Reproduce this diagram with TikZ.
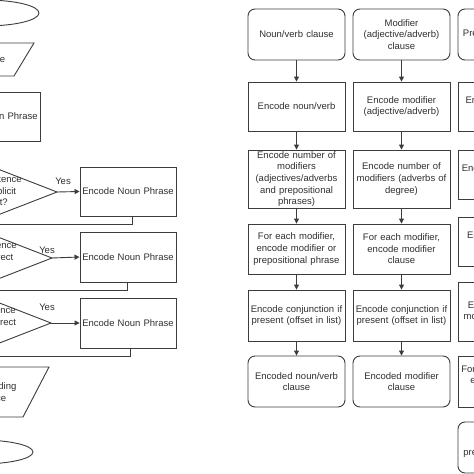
\documentclass[tikz,border=0pt]{standalone}
\usepackage{fontspec}
\setmainfont{Liberation Sans}
\usetikzlibrary{arrows.meta,shapes.geometric,calc}
\definecolor{ln}{HTML}{3C3C3C}
\definecolor{tx}{HTML}{303030}
\begin{document}
\begin{tikzpicture}[x=1pt,y=-1pt,
  font=\fontsize{9.5}{11.6}\selectfont,
  box/.style={draw=ln,line width=0.9pt,text=tx,align=center,minimum width=97pt,text width=95pt,inner sep=0pt},
  rbox/.style={box,rounded corners=7pt},
  lbox/.style={draw=ln,line width=0.9pt,text=tx,align=center,minimum width=96pt,text width=95pt,inner sep=0pt},
  txt/.style={text=tx,align=center,inner sep=0pt},
  shp/.style={draw=ln,line width=0.9pt},
  lnk/.style={draw=ln,line width=0.9pt},
  arr/.style={draw=ln,line width=0.9pt,-{Triangle[length=5pt,width=5pt]}},
  yes/.style={text=tx,inner sep=0pt,font=\fontsize{9.5}{11}\selectfont}]
\useasboundingbox[fill=white] (0,0) rectangle (474,474);

% ---------- left flow (cut by the page edge) ----------
\node[shp,ellipse,minimum width=108pt,minimum height=26pt,inner sep=0pt] (st) at (-15,13) {};
\node[txt] (in) at (-26,60) {Input sentence};
\draw[shp] (-66,43) -- (34,43) -- (14,76) -- (-86,76) -- cycle;
\node[lbox,minimum height=49pt] (np0) at (-8,116.5) {Encode Noun Phrase};

\node[txt] (d1) at (-10,192) {Does sentence\\have explicit\\subject?};
\draw[shp] ($(d1)+(-67,0)$) -- ($(d1)+(0,-26)$) -- ($(d1)+(67,0)$) -- ($(d1)+(0,26)$) -- cycle;
\coordinate (d1r) at ($(d1)+(67,0)$);
\node[lbox,minimum height=49pt] (b1) at (128,191.5) {Encode Noun Phrase};
\draw[arr] (d1r) -- (b1.west);
\node[yes] (y1) at (63,181) {Yes};
\coordinate (e1) at (-1,224);
\draw[lnk] ($(b1.south)+(4,0)$) |- (e1);

\node[txt] (d2) at (-15,258) {Does sentence\\contain direct\\object?};
\draw[shp] ($(d2)+(-67,0)$) -- ($(d2)+(0,-26)$) -- ($(d2)+(67,0)$) -- ($(d2)+(0,26)$) -- cycle;
\coordinate (d2r) at ($(d2)+(67,0)$);
\node[lbox,minimum height=50pt] (b2) at (128,257) {Encode Noun Phrase};
\draw[arr] (d2r) -- (b2.west);
\node[yes] (y2) at (47,250) {Yes};
\coordinate (e2) at (-1,290);
\draw[lnk] ($(b2.south)+(-1,0)$) |- (e2);

\node[txt] (d3) at (-16,323) {Does sentence\\contain indirect\\object?};
\draw[shp] ($(d3)+(-67,0)$) -- ($(d3)+(0,-26)$) -- ($(d3)+(67,0)$) -- ($(d3)+(0,26)$) -- cycle;
\coordinate (d3r) at ($(d3)+(67,0)$);
\node[lbox,minimum height=50pt] (b3) at (128,323) {Encode Noun Phrase};
\draw[arr] (d3r) -- (b3.west);
\node[yes] (y3) at (47,307) {Yes};
\coordinate (e3) at (-1,356);
\draw[lnk] ($(b3.south)+(2,0)$) |- (e3);

\node[txt] (out) at (-18.5,392) {Output encoding\\of sentence};
\draw[shp] (-60,367) -- (49,367) -- (23,417) -- (-86,417) -- cycle;
\node[shp,ellipse,minimum width=106pt,minimum height=24pt,inner sep=0pt] (en) at (-20,452) {};

% ---------- column 1 ----------
\node[rbox,minimum height=51pt] (a1) at (296.5,34.5) {Noun/verb clause};
\node[box,minimum height=49pt] (a2) at (296.5,106.5) {Encode noun/verb};
\node[box,minimum height=58pt] (a3) at (296.5,179) {Encode number of\\modifiers\\(adjectives/adverbs\\and prepositional\\phrases)};
\node[box,minimum height=50pt] (a4) at (296.5,249) {For each modifier,\\encode modifier or\\prepositional phrase};
\node[box,minimum height=51pt] (a5) at (296.5,315.5) {Encode conjunction if\\present (offset in list)};
\node[rbox,minimum height=51pt] (a6) at (296.5,381.5) {Encoded noun/verb\\clause};
\foreach \i/\j in {a1/a2,a2/a3,a3/a4,a4/a5,a5/a6} \draw[arr] (\i.south) -- (\j.north);

% ---------- column 2 ----------
\node[rbox,minimum height=51pt] (m1) at (401.5,34.5) {Modifier\\(adjective/adverb)\\clause};
\node[box,minimum height=49pt] (m2) at (401.5,106.5) {Encode modifier\\(adjective/adverb)};
\node[box,minimum height=58pt] (m3) at (401.5,179) {Encode number of\\modifiers (adverbs of\\degree)};
\node[box,minimum height=50pt] (m4) at (401.5,249) {For each modifier,\\encode modifier\\clause};
\node[box,minimum height=51pt] (m5) at (401.5,315.5) {Encode conjunction if\\present (offset in list)};
\node[rbox,minimum height=51pt] (m6) at (401.5,381.5) {Encoded modifier\\clause};
\foreach \i/\j in {m1/m2,m2/m3,m3/m4,m4/m5,m5/m6} \draw[arr] (\i.south) -- (\j.north);

% ---------- column 3 (cut by the page edge) ----------
\node[rbox,minimum height=51pt] (p1) at (506.5,34.5) {Prepositional phrase};
\node[box,minimum height=49pt] (p2) at (506.5,106.5) {Encode preposition\\type};
\node[box,minimum height=49pt] (p3) at (506.5,174.5) {Encode prepositional\\object};
\node[box,minimum height=49pt] (p4) at (506.5,241.5) {Encode number of\\objects};
\node[box,minimum height=59pt] (p5) at (506.5,311.5) {Encode the object\\modifier (noun/verb)};
\node[box,minimum height=51pt] (p6) at (506.5,381.5) {For each preposition,\\encode its object\\noun phrase};
\node[rbox,minimum height=51pt] (p7) at (506.5,447.5) {Encoded\\prepositional phrase};
\end{tikzpicture}
\end{document}
